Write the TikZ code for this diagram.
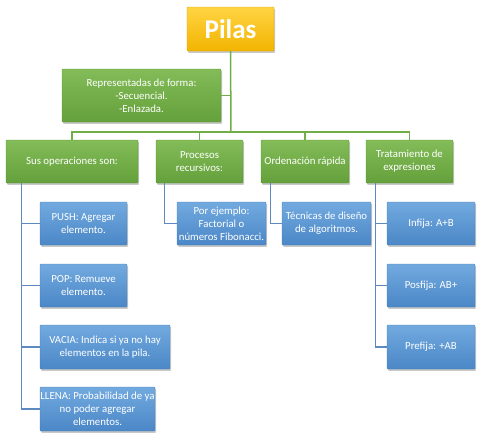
\documentclass[tikz,border=0pt]{standalone}
\usepackage{fontspec}
\setmainfont{Carlito}
\usetikzlibrary{shadows}
\definecolor{goldT}{HTML}{FFD443}
\definecolor{goldB}{HTML}{F2B400}
\definecolor{goldD}{HTML}{D9A300}
\definecolor{grnT}{HTML}{83BC58}
\definecolor{grnB}{HTML}{64A03B}
\definecolor{grnD}{HTML}{5B9233}
\definecolor{bluT}{HTML}{72AADF}
\definecolor{bluB}{HTML}{4B87C7}
\definecolor{bluD}{HTML}{477CB6}
\definecolor{gline}{HTML}{72AE48}
\definecolor{bline}{HTML}{5C8AC0}
\tikzset{
  box/.style={draw, rectangle, rounded corners=0.8pt, align=center, text=white,
    inner xsep=0pt, inner ysep=1pt, font=\fontsize{10.8}{13.2}\selectfont,
    drop shadow={shadow xshift=1.2pt, shadow yshift=-1.8pt, opacity=0.3, fill=black!70}},
  goldbox/.style={box, top color=goldT, bottom color=goldB, draw=goldD,
    font=\fontsize{27}{30}\selectfont\bfseries},
  greenbox/.style={box, top color=grnT, bottom color=grnB, draw=grnD},
  bluebox/.style={box, top color=bluT, bottom color=bluB, draw=bluD},
  glink/.style={draw=gline, line width=1.5pt},
  blink/.style={draw=bline, line width=1.3pt},
}
\begin{document}
\begin{tikzpicture}[x=1pt,y=-1pt]
\useasboundingbox (0,0) rectangle (486,437);
% level 0 and 1
\node[goldbox, minimum width=87pt, minimum height=44pt] (pilas) at (230.5,29) {Pilas};
\node[greenbox, minimum width=159pt, minimum height=53pt] (rep) at (141.5,95.5)
  {Representadas de forma:\\-Secuencial.\\-Enlazada.};
% level 2
\node[greenbox, minimum width=132pt, minimum height=43pt] (sus) at (72,161.5) {Sus operaciones son:};
\node[greenbox, minimum width=87pt, minimum height=43pt] (proc) at (199.5,161.5) {Procesos\\recursivos:};
\node[greenbox, minimum width=88pt, minimum height=43pt] (ord) at (305,161.5) {Ordenación rápida};
\node[greenbox, minimum width=87pt, minimum height=43pt] (trat) at (409.5,161.5) {Tratamiento de\\expresiones};
% level 3
\node[bluebox, minimum width=87pt, minimum height=43pt] (push) at (83.5,223.5) {PUSH: Agregar\\elemento.};
\node[bluebox, minimum width=87pt, minimum height=43pt] (pop) at (83.5,285.5) {POP: Remueve\\elemento.};
\node[bluebox, minimum width=130pt, minimum height=44pt] (vacia) at (105,347) {VACIA: Indica si ya no hay\\elementos en la pila.};
\node[bluebox, minimum width=115pt, minimum height=44pt] (llena) at (97.5,409) {LLENA: Probabilidad de ya\\no poder agregar\\elementos.};
\node[bluebox, minimum width=89pt, minimum height=43pt] (pore) at (221.5,223.5) {Por ejemplo:\\Factorial o\\números Fibonacci.};
\node[bluebox, minimum width=89pt, minimum height=43pt] (tec) at (326.5,223.5) {Técnicas de diseño\\de algoritmos.};
\node[bluebox, minimum width=88pt, minimum height=43pt] (inf) at (431,223.5) {Infija: A+B};
\node[bluebox, minimum width=88pt, minimum height=43pt] (pos) at (431,285.5) {Posfija: AB+};
\node[bluebox, minimum width=88pt, minimum height=44pt] (pre) at (431,347) {Prefija: +AB};
% green connectors
\coordinate (bus) at (231,132);
\path[glink] (pilas.south) -- (bus);
\path[glink] (rep.east) -- (rep.east -| bus);
\path[glink] (sus.north) -- (sus.north |- bus) -- (trat.north |- bus) -- (trat.north);
\path[glink] (proc.north) -- (proc.north |- bus);
\path[glink] (ord.north) -- (ord.north |- bus);
% blue connectors
\coordinate (sv) at ([xshift=16pt]sus.south west);
\path[blink] (sv) |- (push.west);
\path[blink] (sv) |- (pop.west);
\path[blink] (sv) |- (vacia.west);
\path[blink] (sv) |- (llena.west);
\coordinate (pv) at ([xshift=9pt]proc.south west);
\path[blink] (pv) |- (pore.west);
\coordinate (ov) at ([xshift=10pt]ord.south west);
\path[blink] (ov) |- (tec.west);
\coordinate (tv) at ([xshift=10pt]trat.south west);
\path[blink] (tv) |- (inf.west);
\path[blink] (tv) |- (pos.west);
\path[blink] (tv) |- (pre.west);
\end{tikzpicture}
\end{document}
